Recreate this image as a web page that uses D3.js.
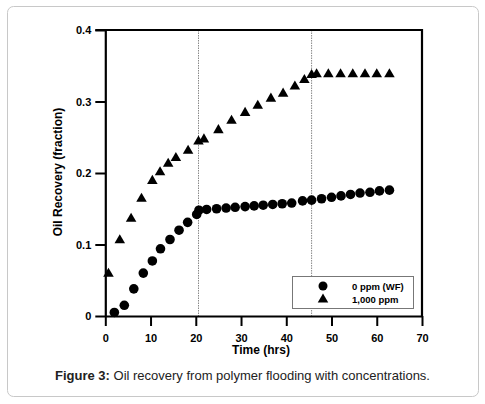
<!DOCTYPE html>
<html>
<head>
<meta charset="utf-8">
<script src="https://cdn.jsdelivr.net/npm/d3@7"></script>
<style>
  body { margin: 0; background: #fff; }
  svg { display: block; font-family: Arial, "Liberation Sans", sans-serif; }
</style>
</head>
<body>
<svg id="chart"></svg>
<script>
// data
const wfTime = [2.0, 4.2, 6.3, 8.4, 10.4, 12.2, 14.3, 16.3, 18.2, 20.2, 20.7, 22.4, 24.6, 26.7, 28.7, 30.9, 32.9, 34.9, 37.0, 39.1, 41.2, 43.6, 45.6, 47.8, 50.0, 52.1, 54.2, 56.3, 58.5, 60.6, 62.8];
const wfRec = [0.005, 0.015, 0.038, 0.060, 0.077, 0.094, 0.107, 0.120, 0.131, 0.142, 0.148, 0.149, 0.150, 0.151, 0.152, 0.153, 0.154, 0.155, 0.156, 0.157, 0.158, 0.161, 0.162, 0.164, 0.166, 0.168, 0.170, 0.172, 0.173, 0.175, 0.176];
const polyTime = [0.7, 3.2, 5.7, 8.0, 10.4, 12.1, 13.9, 15.6, 18.3, 20.6, 21.8, 25.0, 27.9, 30.9, 33.7, 36.6, 39.3, 41.9, 44.0, 45.6, 46.7, 49.3, 52.0, 54.7, 57.4, 60.0, 62.8];
const polyRec = [0.059, 0.106, 0.136, 0.164, 0.189, 0.201, 0.213, 0.221, 0.231, 0.244, 0.247, 0.260, 0.273, 0.284, 0.294, 0.304, 0.311, 0.321, 0.330, 0.337, 0.338, 0.338, 0.338, 0.338, 0.338, 0.338, 0.338];
const xTicks = [0, 10, 20, 30, 40, 50, 60, 70];
const yTicks = [0, 0.1, 0.2, 0.3, 0.4];
const yTickLabels = ["0", "0.1", "0.2", "0.3", "0.4"];
const markerLines = [20.6, 45.6];
const seriesNames = ["0 ppm (WF)", "1,000 ppm"];

const W = 485, H = 404;
const svg = d3.select('#chart').attr('width', W).attr('height', H);

// outer frame
svg.append('rect')
  .attr('x', 7.5).attr('y', 6.5).attr('width', 471).attr('height', 390)
  .attr('rx', 6).attr('fill', 'none').attr('stroke', '#c8c8c8');

const x = d3.scaleLinear().domain([0, 70]).range([105.3, 422]);
const y = d3.scaleLinear().domain([0, 0.4]).range([316, 30]);

// dotted lines
svg.selectAll('.vline')
  .data(markerLines)
  .join('line')
  .attr('x1', d => x(d)).attr('x2', d => x(d))
  .attr('y1', y(0.4)).attr('y2', y(0))
  .attr('stroke', '#888').attr('stroke-width', 1)
  .attr('stroke-dasharray', '1.5,1');

// axes
const xAxis = d3.axisBottom(x).tickValues(xTicks).tickSize(10).tickSizeOuter(0).tickPadding(4);
const yAxis = d3.axisLeft(y).tickValues(yTicks).tickSize(10).tickSizeOuter(0).tickPadding(4)
  .tickFormat((d, i) => yTickLabels[i]);

const gx = svg.append('g').attr('transform', `translate(0,${y(0)})`).call(xAxis);
const gy = svg.append('g').attr('transform', `translate(${x(0)},0)`).call(yAxis);
[gx, gy].forEach(g => {
  g.select('.domain').attr('stroke-width', 2.2);
  g.selectAll('.tick line').attr('stroke-width', 2);
  g.selectAll('.tick text').attr('font-size', 11).attr('font-weight', 'bold')
    .attr('font-family', 'Arial, "Liberation Sans", sans-serif').attr('fill', '#000');
});
gx.selectAll('.tick text').attr('dy', '1.1em');
gy.selectAll('.tick text').attr('dy', '0.36em');

// top and right edges
svg.append('path')
  .attr('d', `M${x(0) - 10},${y(0.4)}H${x(70)}V${y(0)}`)
  .attr('fill', 'none').attr('stroke', '#000').attr('stroke-width', 2.2);

// markers
const tri = d3.symbol().type(d3.symbolTriangle).size(48);

svg.selectAll('.wf')
  .data(wfTime)
  .join('circle')
  .attr('cx', d => x(d))
  .attr('cy', (d, i) => y(wfRec[i]))
  .attr('r', 4.8)
  .attr('fill', '#000');

svg.selectAll('.poly')
  .data(polyTime)
  .join('path')
  .attr('d', tri)
  .attr('transform', (d, i) => `translate(${x(d)},${y(polyRec[i])})`)
  .attr('fill', '#000');

// legend
const lg = svg.append('g');
lg.append('rect').attr('x', 292.5).attr('y', 276.5).attr('width', 121).attr('height', 32)
  .attr('fill', '#fff').attr('stroke', '#777');
lg.append('circle').attr('cx', 323).attr('cy', 286).attr('r', 4.5).attr('fill', '#000');
lg.append('path').attr('d', tri).attr('transform', 'translate(323,299.5)').attr('fill', '#000');
lg.selectAll('.lt')
  .data(seriesNames)
  .join('text')
  .attr('x', 352).attr('y', (d, i) => 290 + i * 13)
  .attr('font-size', 9.5).attr('font-weight', 'bold')
  .text(d => d);

// titles
svg.append('text')
  .attr('x', 261).attr('y', 354)
  .attr('text-anchor', 'middle').attr('font-size', 12).attr('font-weight', 'bold')
  .text('Time (hrs)');

svg.append('text')
  .attr('transform', 'translate(62,172) rotate(-90)')
  .attr('text-anchor', 'middle').attr('font-size', 12).attr('font-weight', 'bold')
  .text('Oil Recovery (fraction)');

// caption
const cap = svg.append('text').attr('x', 55).attr('y', 380).attr('font-size', 13).attr('fill', '#222');
cap.append('tspan').attr('font-weight', 'bold').text('Figure 3:');
cap.append('tspan').text(' Oil recovery from polymer flooding with concentrations.');
</script>
</body>
</html>
